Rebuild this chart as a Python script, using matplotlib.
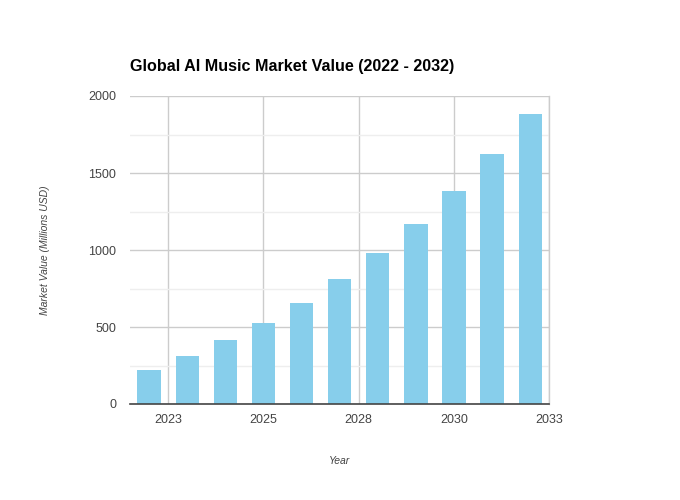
import matplotlib
matplotlib.use("Agg")
import matplotlib.pyplot as plt
from matplotlib.ticker import MultipleLocator, FuncFormatter

years = [2022, 2023, 2024, 2025, 2026, 2027, 2028, 2029, 2030, 2031, 2032]
values = [221, 312, 416, 526, 656, 812, 980, 1169, 1383, 1623, 1883]
title = "Global AI Music Market Value (2022 - 2032)"
xlabel = "Year"
ylabel = "Market Value (Millions USD)"

plt.rcParams['font.family'] = ['Liberation Sans', 'DejaVu Sans']

fig = plt.figure(figsize=(6.8, 5.0), dpi=100)
ax = fig.add_axes([130/680, 1-404/500, (549.3-130)/680, (404-96)/500])

ax.bar(years, values, width=0.61, color='#87CEEB', zorder=3)

ax.set_xlim(2021.5, 2032.5)
ax.set_ylim(0, 2000)

ax.xaxis.set_major_locator(MultipleLocator(2.5))
ax.xaxis.set_major_formatter(FuncFormatter(lambda v, p: "%d" % int(v + 0.5)))
ax.yaxis.set_major_locator(MultipleLocator(500))
ax.yaxis.set_minor_locator(MultipleLocator(250))

ax.grid(True, which='major', axis='both', color='#cccccc', linewidth=1, zorder=0)
ax.grid(True, which='minor', axis='y', color='#eeeeee', linewidth=1, zorder=0)

for s in ['top', 'left']:
    ax.spines[s].set_visible(False)
ax.spines['right'].set_color('#cccccc')
ax.spines['right'].set_linewidth(1)
ax.spines['bottom'].set_color('#444444')
ax.spines['bottom'].set_linewidth(1.2)
ax.spines['bottom'].set_zorder(4)

ax.tick_params(axis='both', which='both', length=0, labelsize=9, labelcolor='#444444')
ax.tick_params(axis='y', pad=10)
ax.tick_params(axis='x', pad=7)

fig.text(130/680, 1-67/500, title, fontsize=11.6, fontweight='bold', color='black',
         ha='left', va='center')
fig.text(340/680, 1-461/500, xlabel, fontsize=7.5, style='italic', color='#444444',
         ha='center', va='center')
fig.text(45/680, 1-250/500, ylabel, fontsize=7.5, style='italic', color='#444444',
         ha='center', va='center', rotation=90)

fig.savefig("out.png", dpi=100)
